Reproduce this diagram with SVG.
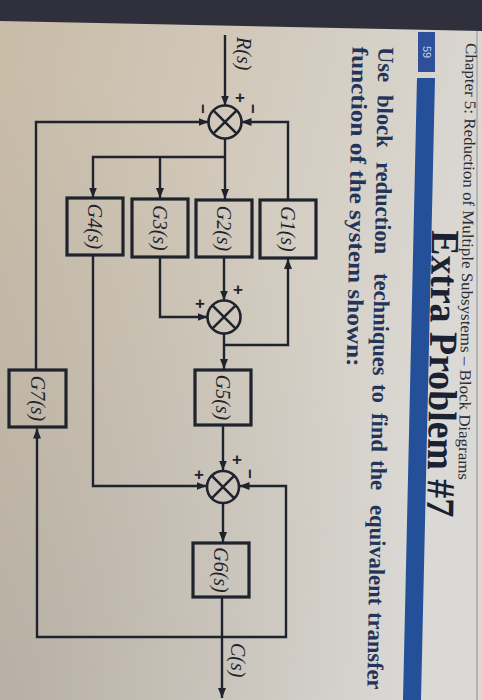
<svg xmlns="http://www.w3.org/2000/svg" width="482" height="700" viewBox="0 0 482 700">
  <defs>
    <linearGradient id="bg" x1="0" y1="0" x2="1" y2="0.35">
      <stop offset="0" stop-color="#c8bba6"/>
      <stop offset="0.45" stop-color="#d1c8b9"/>
      <stop offset="1" stop-color="#dbd9d5"/>
    </linearGradient>
    <radialGradient id="shade" cx="0" cy="1" r="0.9">
      <stop offset="0" stop-color="#8c8a88" stop-opacity="0.35"/>
      <stop offset="1" stop-color="#8c8a88" stop-opacity="0"/>
    </radialGradient>
    <marker id="arr" markerWidth="10" markerHeight="8" refX="10" refY="4" orient="auto" markerUnits="userSpaceOnUse">
      <path d="M0,0 L10,4 L0,8 z" fill="#1f232d"/>
    </marker>
    <style>
      .ln { fill: none; stroke: #1f232d; stroke-width: 2.4; }
      .box { fill: none; stroke: #1f232d; stroke-width: 3.2; }
      .sum { fill: none; stroke: #1f232d; stroke-width: 2.6; }
      .glbl { font-family: "Liberation Serif", serif; font-style: italic; font-size: 20px; fill: #1f232d; }
      .sign { font-family: "Liberation Sans", sans-serif; font-size: 17px; font-weight: bold; fill: #1f232d; }
      .instr { font-family: "Liberation Serif", serif; font-weight: bold; font-size: 22.5px; fill: #23345a; }
      .title { font-family: "Liberation Serif", serif; font-weight: bold; font-size: 40px; fill: #1c2132; }
      .chap { font-family: "Liberation Serif", serif; font-size: 16px; fill: #2a2b35; }
    </style>
  </defs>

  <!-- background photo of slide -->
  <rect x="0" y="0" width="482" height="700" fill="url(#bg)"/>
  <rect x="0" y="0" width="482" height="700" fill="url(#shade)"/>
  <polygon points="0,0 482,0 482,31 0,21" fill="#2f303b"/>
  <line x1="477" y1="31" x2="477" y2="700" stroke="#a9a9ab" stroke-width="1.5"/>

  <!-- header -->
  <g id="header">
    <g transform="translate(466.7,0) rotate(91)">
      <text class="chap" x="43" y="0" textLength="437" lengthAdjust="spacingAndGlyphs">Chapter 5: Reduction of Multiple Subsystems – Block Diagrams</text>
    </g>
    <rect x="418" y="32" width="17" height="40" fill="#2f4f9a"/>
    <text x="426.5" y="52" transform="rotate(90 426.5 52)" text-anchor="middle" dominant-baseline="central" font-family="Liberation Sans, sans-serif" font-size="11" fill="#c8d2e6">59</text>
    <polygon points="417,78 435,78 421,700 403,700" fill="#24509a"/>
    <g transform="translate(436,0) rotate(91)">
      <text class="title" x="230" y="0" textLength="287" lengthAdjust="spacingAndGlyphs">Extra Problem #7</text>
    </g>
    <g transform="translate(379.3,0) rotate(91)">
      <text class="instr" y="0"><tspan x="47">Use</tspan><tspan x="95">block</tspan><tspan x="162">reduction</tspan><tspan x="273">techniques</tspan><tspan x="384">to</tspan><tspan x="413">find</tspan><tspan x="460">the</tspan><tspan x="505">equivalent</tspan><tspan x="612">transfer</tspan></text>
      <text class="instr" x="47" y="26" textLength="320" lengthAdjust="spacingAndGlyphs">function of the system shown:</text>
    </g>
  </g>

  <!-- connectors -->
  <g id="connectors">
    <line class="ln" x1="225" y1="35" x2="225" y2="105.5" marker-end="url(#arr)"/>
    <line class="ln" x1="225" y1="138.5" x2="225" y2="199" marker-end="url(#arr)"/>
    <polyline class="ln" points="225,157 93,157 93,197.5" marker-end="url(#arr)"/>
    <polyline class="ln" points="160,157 160,198" marker-end="url(#arr)"/>
    <polyline class="ln" points="288,199 288,122 241.5,122" marker-end="url(#arr)"/>
    <polyline class="ln" points="36,370 36,122 208.5,122" marker-end="url(#arr)"/>
    <line class="ln" x1="224" y1="257" x2="224" y2="300.5" marker-end="url(#arr)"/>
    <polyline class="ln" points="160,257 160,317 207.5,317" marker-end="url(#arr)"/>
    <line class="ln" x1="224" y1="333.5" x2="224" y2="369" marker-end="url(#arr)"/>
    <polyline class="ln" points="224,345 288,345 288,259" marker-end="url(#arr)"/>
    <line class="ln" x1="223" y1="425" x2="223" y2="470.5" marker-end="url(#arr)"/>
    <polyline class="ln" points="93,256 93,486 206.5,486" marker-end="url(#arr)"/>
    <polyline class="ln" points="222,637 286,637 286,486 239.5,486" marker-end="url(#arr)"/>
    <line class="ln" x1="223" y1="503" x2="223" y2="542" marker-end="url(#arr)"/>
    <line class="ln" x1="222" y1="597" x2="222" y2="698" marker-end="url(#arr)"/>
    <polyline class="ln" points="222,637 37,637 37,428.5" marker-end="url(#arr)"/>
  </g>

  <!-- labels of signals -->
  <text class="glbl" x="237" y="37" transform="rotate(90 237 37)">R(s)</text>
  <text class="glbl" x="231" y="643" transform="rotate(90 231 643)">C(s)</text>

  <!-- summing junction 1 -->
  <g id="sum1">
    <circle class="sum" cx="225" cy="122" r="16.5"/>
    <path class="sum" d="M213.3,110.3 L236.7,133.7 M236.7,110.3 L213.3,133.7"/>
    <text class="sign" x="240" y="97" text-anchor="middle" dominant-baseline="central">+</text>
    <text class="sign" x="202" y="109" transform="rotate(90 202 109)" text-anchor="middle" dominant-baseline="central">−</text>
    <text class="sign" x="252" y="109" transform="rotate(90 252 109)" text-anchor="middle" dominant-baseline="central">−</text>
  </g>

  <!-- summing junction 2 -->
  <g id="sum2">
    <circle class="sum" cx="224" cy="317" r="16.5"/>
    <path class="sum" d="M212.3,305.3 L235.7,328.7 M235.7,305.3 L212.3,328.7"/>
    <text class="sign" x="238" y="289" text-anchor="middle" dominant-baseline="central">+</text>
    <text class="sign" x="200" y="303" text-anchor="middle" dominant-baseline="central">+</text>
  </g>

  <!-- summing junction 3 -->
  <g id="sum3">
    <circle class="sum" cx="223" cy="487" r="16"/>
    <path class="sum" d="M211.7,475.7 L234.3,498.3 M234.3,475.7 L211.7,498.3"/>
    <text class="sign" x="237" y="459" text-anchor="middle" dominant-baseline="central">+</text>
    <text class="sign" x="199" y="474" text-anchor="middle" dominant-baseline="central">+</text>
    <text class="sign" x="249" y="474" transform="rotate(90 249 474)" text-anchor="middle" dominant-baseline="central">−</text>
  </g>

  <!-- blocks -->
  <g id="G1">
    <rect class="box" x="260" y="200" width="56" height="58"/>
    <text class="glbl" x="288" y="229" transform="rotate(90 288 229)" text-anchor="middle" dominant-baseline="central">G1(s)</text>
  </g>
  <g id="G2">
    <rect class="box" x="196" y="200" width="56" height="57"/>
    <text class="glbl" x="224" y="228.5" transform="rotate(90 224 228.5)" text-anchor="middle" dominant-baseline="central">G2(s)</text>
  </g>
  <g id="G3">
    <rect class="box" x="132" y="199" width="56" height="58"/>
    <text class="glbl" x="160" y="228" transform="rotate(90 160 228)" text-anchor="middle" dominant-baseline="central">G3(s)</text>
  </g>
  <g id="G4">
    <rect class="box" x="67" y="198" width="56" height="57"/>
    <text class="glbl" x="95" y="226.5" transform="rotate(90 95 226.5)" text-anchor="middle" dominant-baseline="central">G4(s)</text>
  </g>
  <g id="G5">
    <rect class="box" x="195" y="370" width="56" height="55"/>
    <text class="glbl" x="223" y="397.5" transform="rotate(90 223 397.5)" text-anchor="middle" dominant-baseline="central">G5(s)</text>
  </g>
  <g id="G6">
    <rect class="box" x="193" y="543" width="56" height="54"/>
    <text class="glbl" x="221" y="570" transform="rotate(90 221 570)" text-anchor="middle" dominant-baseline="central">G6(s)</text>
  </g>
  <g id="G7">
    <rect class="box" x="9" y="370" width="57" height="57"/>
    <text class="glbl" x="37.5" y="398.5" transform="rotate(90 37.5 398.5)" text-anchor="middle" dominant-baseline="central">G7(s)</text>
  </g>
</svg>
